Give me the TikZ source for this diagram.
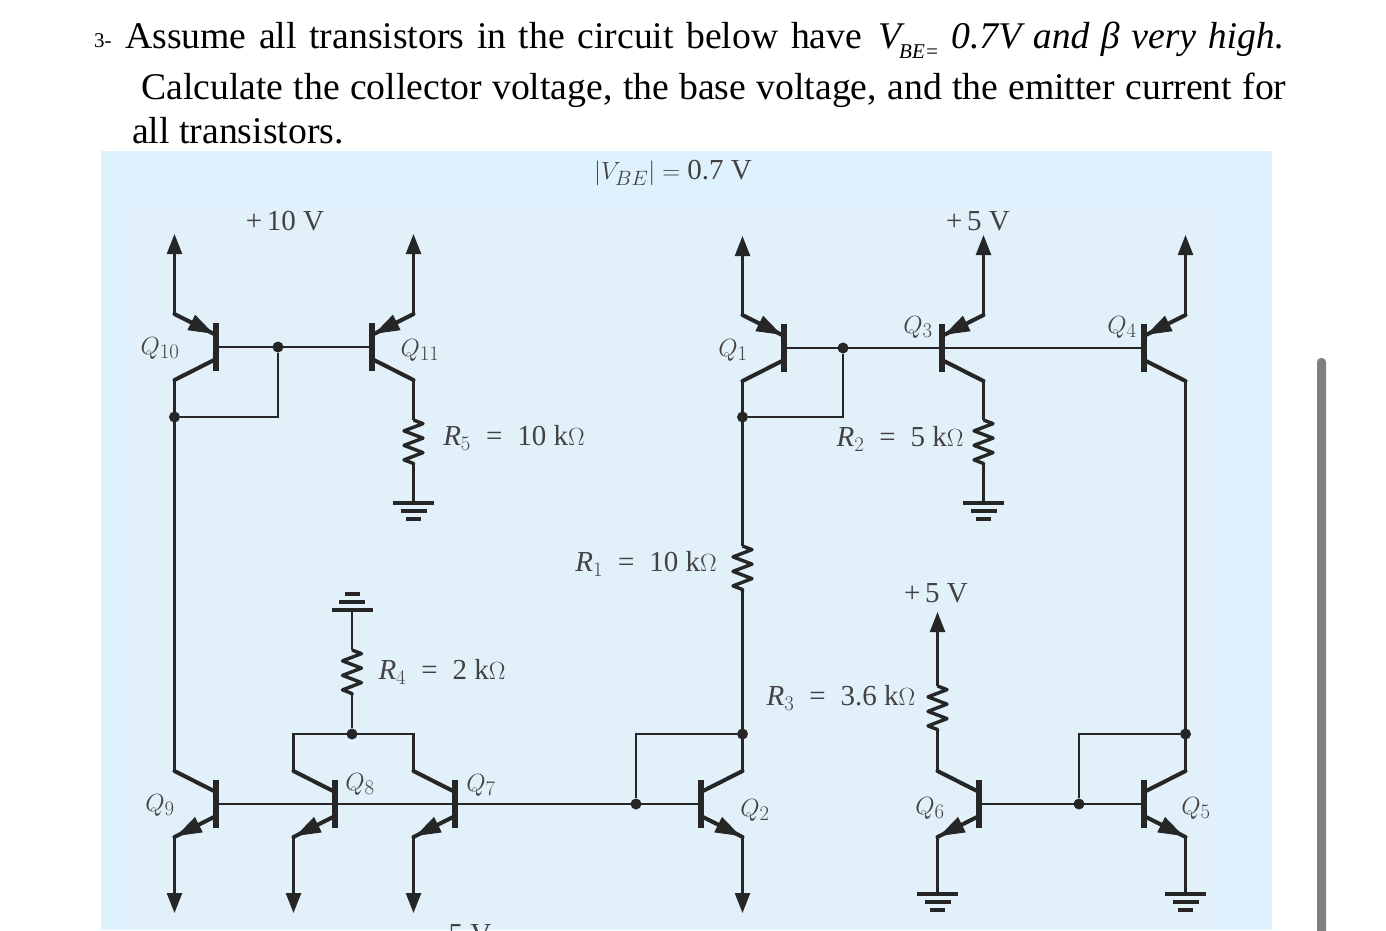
\documentclass[tikz,border=0pt]{standalone}
\usepackage{fontspec}
\setmainfont{Liberation Serif}
\usetikzlibrary{calc}
\usetikzlibrary{arrows.meta}
\usetikzlibrary{decorations.pathmorphing}
\definecolor{panel blue}{HTML}{DFF1FD}
\definecolor{circuit blue}{HTML}{E2F0F9}
\definecolor{ink}{HTML}{262626}
\definecolor{label ink}{HTML}{424242}
\newcommand{\eqgap}{\hspace{15pt}}
\tikzset{
  title line/.style={anchor=base west, inner sep=0pt, font=\fontsize{37.7}{40}\selectfont},
  circuit label/.style={inner sep=0pt, text=label ink, font=\fontsize{29}{32}\selectfont},
  wire/.style={draw=ink, line width=2.4pt},
  lead/.style={draw=ink, line width=4pt, line cap=round},
  rail/.style={wire, -{Triangle[length=20pt,width=15pt]}},
  emitter tip/.style={draw=ink, line width=1pt, -{Triangle[length=25pt,width=17pt]}},
  zigzag wire/.style={draw=ink, line width=3.4pt, line join=round, decorate, decoration={zigzag, amplitude=9.5pt, segment length=14.5pt}},
  dot/.style={circle, fill=ink, inner sep=0pt, minimum size=11pt},
  bjtbar/.style={rectangle, fill=ink, inner sep=0pt, minimum width=6pt, minimum height=48pt},
}
\begin{document}
\begin{tikzpicture}[x=1pt, y=-1pt]
\useasboundingbox (0,0) rectangle (1386,930);
\fill [white] (0,0) rectangle (1386,930);
\fill [panel blue] (101,151) rectangle (1272,930);
\fill [circuit blue] (130,207) rectangle (1213,930);
\fill [gray, rounded corners=4pt] (1317,358) rectangle (1326,945);

\node (question number) [anchor=base west, inner sep=0pt, font=\fontsize{21}{24}\selectfont] at (94,47) {3-};
\node (line one) [title line] at (125,48) {\makebox[737pt][s]{Assume all transistors in the circuit below have}};
\node (line one V) [title line] at (878,48) {\textit{V}};
\node (line one BE) [anchor=base west, inner sep=0pt, font=\fontsize{21}{24}\selectfont\itshape] at (899,58) {BE=};
\node (line one end) [title line] at (951,48) {\makebox[333pt][s]{\textit{0.7V and β very high.}}};
\node (line two) [title line] at (141,99) {\makebox[1145pt][s]{Calculate the collector voltage, the base voltage, and the emitter current for}};
\node (line three) [title line] at (132,143) {all transistors.};

\foreach \name/\bx/\by/\sd/\ed in {Q10/216/347/-1/-1, Q11/372/347/1/-1, Q1/784/348/-1/-1, Q3/942/348/1/-1, Q4/1144/348/1/-1, Q9/216/804/-1/1, Q8/335/804/-1/1, Q7/455/804/-1/1, Q2/701/804/1/1, Q6/979/804/-1/1, Q5/1144/804/1/1}{
  \node (\name) [bjtbar] at (\bx,\by) {};
  \coordinate (\name e) at (\bx+\sd*41.5,\by+\ed*33);
  \coordinate (\name c) at (\bx+\sd*41.5,\by-\ed*33);
  \coordinate (\name eb) at (\bx,\by+\ed*12);
  \coordinate (\name cb) at (\bx,\by-\ed*12);
  \draw [lead] (\name e) -- (\name eb);
  \draw [lead] (\name c) -- (\name cb);
  \ifnum\ed<0
    \draw [emitter tip] (\name e) -- ($(\name e)!.94!(\name eb)$);
  \else
    \draw [emitter tip] (\name eb) -- ($(\name eb)!.95!(\name e)$);
  \fi
}

\coordinate (Q10 supply) at (174.5,234);
\coordinate (Q11 supply) at (413.5,234);
\coordinate (Q1 supply) at (742.5,236);
\coordinate (Q3 supply) at (983.5,235);
\coordinate (Q4 supply) at (1185.5,235);
\coordinate (Q9 return) at (174.5,913);
\coordinate (Q8 return) at (293.5,913);
\coordinate (Q7 return) at (413.5,913);
\coordinate (Q2 return) at (742.5,913);
\coordinate (R3 supply) at (937.5,612);

\foreach \from/\to in {Q10e/Q10 supply, Q11e/Q11 supply, Q1e/Q1 supply, Q3e/Q3 supply, Q4e/Q4 supply, Q9e/Q9 return, Q8e/Q8 return, Q7e/Q7 return, Q2e/Q2 return}
  \draw [rail] (\from) -- (\to);

\node (left mirror) [dot] at (278,347) {};
\node (left collector) [dot] at (174.5,417) {};
\node (right mirror) [dot] at (843,348) {};
\node (mid collector) [dot] at (742.5,417) {};
\node (pair tail) [dot] at (352,734) {};
\node (Q2 collector) [dot] at (742.5,734) {};
\node (Q2 mirror) [dot] at (636,804) {};
\node (Q5 collector) [dot] at (1185.5,734) {};
\node (Q5 mirror) [dot] at (1079,804) {};

\coordinate (left loop) at (278,417);
\coordinate (mid loop) at (843,417);
\coordinate (pair left) at (293.5,734);
\coordinate (pair right) at (413.5,734);
\coordinate (Q2 loop) at (636,734);
\coordinate (Q5 loop) at (1079,734);

\draw [wire] (Q10) -- (Q11);
\draw [wire] (Q1) -- (Q4);
\draw [wire] (Q9) -- (Q2);
\draw [wire] (Q6) -- (Q5);
\draw [wire] (left mirror) -- (left loop) -- (left collector);
\draw [wire] (right mirror) -- (mid loop) -- (mid collector);
\draw [wire] (Q10c) -- (Q9c);
\draw [wire] (Q8c) -- (pair left) -- (pair right) -- (Q7c);
\draw [wire] (Q2 mirror) -- (Q2 loop) -- (Q2 collector);
\draw [wire] (Q5 mirror) -- (Q5 loop) -- (Q5 collector);
\draw [wire] (Q4c) -- (Q5c);

\coordinate (R5 top) at (413.5,420);
\coordinate (R5 bottom) at (413.5,464);
\coordinate (R2 top) at (983.5,420);
\coordinate (R2 bottom) at (983.5,465);
\coordinate (R1 top) at (742.5,546);
\coordinate (R1 bottom) at (742.5,592);
\coordinate (R3 top) at (937.5,686);
\coordinate (R3 bottom) at (937.5,731);
\coordinate (R4 top) at (352,650);
\coordinate (R4 bottom) at (352,695);

\foreach \rtop/\rbottom in {R5 top/R5 bottom, R2 top/R2 bottom, R1 top/R1 bottom, R3 top/R3 bottom, R4 top/R4 bottom}
  \draw [zigzag wire] (\rtop) -- (\rbottom);

\draw [wire] (Q11c) -- (R5 top);
\draw [wire] (Q3c) -- (R2 top);
\draw [wire] (Q1c) -- (R1 top);
\draw [wire] (R1 bottom) -- (Q2c);
\draw [wire] (R4 bottom) -- (pair tail);
\draw [rail] (R3 top) -- (R3 supply);
\draw [wire] (R3 bottom) -- (Q6c);

\foreach \gname/\gx/\gy/\gd in {R5/413.5/503/1, R2/983.5/503/1, Q6/937.5/894/1, Q5/1185.5/894/1, R4/352/610/-1}{
  \coordinate (\gname ground) at (\gx,\gy);
  \draw [lead, line cap=butt] (\gx-20.5,\gy) -- (\gx+20.5,\gy);
  \draw [lead, line cap=butt] (\gx-13,\gy+\gd*8) -- (\gx+13,\gy+\gd*8);
  \draw [lead, line cap=butt] (\gx-7.5,\gy+\gd*16) -- (\gx+7.5,\gy+\gd*16);
}
\draw [wire] (R5 bottom) -- (R5ground);
\draw [wire] (R2 bottom) -- (R2ground);
\draw [wire] (R4ground) -- (R4 top);
\draw [wire] (Q6e) -- (Q6ground);
\draw [wire] (Q5e) -- (Q5ground);

\node (beta note) [circuit label] at (673,173) {$|V_{BE}|=$ 0.7 V};
\node (supply ten) [circuit label] at (285,221) {+\,10 V};
\node (supply five) [circuit label] at (978,221) {+\,5 V};
\node (supply five low) [circuit label] at (936,593) {+\,5 V};
\node (bottom supply) [circuit label, anchor=north] at (470,924) {5 V};
\node (R5 label) [circuit label] at (514,438) {\textit{R}$_5$\eqgap=\eqgap 10 k$\Omega$};
\node (R2 label) [circuit label] at (900,439) {\textit{R}$_2$\eqgap=\eqgap 5 k$\Omega$};
\node (R1 label) [circuit label] at (646,564) {\textit{R}$_1$\eqgap=\eqgap 10 k$\Omega$};
\node (R4 label) [circuit label] at (442,672) {\textit{R}$_4$\eqgap=\eqgap 2 k$\Omega$};
\node (R3 label) [circuit label] at (841,698) {\textit{R}$_3$\eqgap=\eqgap 3.6 k$\Omega$};
\node (Q10 label) [circuit label] at (160,348) {$Q_{10}$};
\node (Q11 label) [circuit label] at (420,350) {$Q_{11}$};
\node (Q1 label) [circuit label] at (733,350) {$Q_1$};
\node (Q3 label) [circuit label] at (918,327) {$Q_3$};
\node (Q4 label) [circuit label] at (1122,327) {$Q_4$};
\node (Q8 label) [circuit label] at (360,784) {$Q_8$};
\node (Q7 label) [circuit label] at (481,785) {$Q_7$};
\node (Q9 label) [circuit label] at (160,805) {$Q_9$};
\node (Q2 label) [circuit label] at (755,810) {$Q_2$};
\node (Q6 label) [circuit label] at (930,808) {$Q_6$};
\node (Q5 label) [circuit label] at (1196,808) {$Q_5$};
\end{tikzpicture}
\end{document}
